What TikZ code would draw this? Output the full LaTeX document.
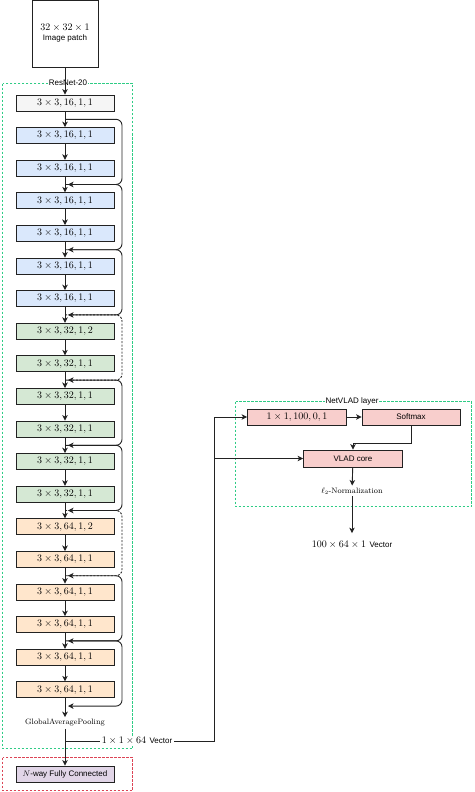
\documentclass[tikz,border=0pt]{standalone}
\usepackage{fontspec}
\setsansfont{Liberation Sans}
\usetikzlibrary{arrows.meta}
\definecolor{gfill}{HTML}{F5F5F5}
\definecolor{bfill}{HTML}{DAE8FC}
\definecolor{grfill}{HTML}{D5E8D4}
\definecolor{ofill}{HTML}{FFE6CC}
\definecolor{pfill}{HTML}{F8CECC}
\definecolor{vfill}{HTML}{E1D5E7}
\definecolor{dgreen}{HTML}{2ECC85}
\definecolor{dred}{HTML}{DC4455}
\definecolor{ln}{HTML}{222222}
\tikzset{
  arr/.style={draw=ln, line width=0.9pt, -{Stealth[length=5.5pt,width=5.5pt,inset=1.5pt]}},
  plain/.style={draw=ln, line width=0.9pt},
  layer/.style={draw=ln, line width=0.8pt, minimum width=98pt, minimum height=16pt, inner sep=0pt, font=\normalsize},
  skipline/.style={arr, rounded corners=6pt},
  grp/.style={line width=1.1pt, dash pattern=on 2.5pt off 1.5pt},
  grplabel/.style={fill=white, inner sep=1pt, font=\sffamily\fontsize{8}{9}\selectfont},
  serifsmall/.style={font=\rmfamily\fontsize{7.8}{9}\selectfont, inner sep=2pt},
}
\begin{document}
\begin{tikzpicture}[x=1pt,y=-1pt]
\useasboundingbox (0,0) rectangle (474,792);
\fill[white] (0,0) rectangle (474,792);
% group boxes
\draw[grp, draw=dgreen] (2.5,83.5) rectangle (132.5,748.5);
\draw[grp, draw=dred] (2.5,757.5) rectangle (132.5,790.5);
\draw[grp, draw=dgreen] (235.5,401.5) rectangle (471.5,506.5);
\node[grplabel] (lres) at (68,83) {ResNet-20};
\node[grplabel] (lvlad) at (352,401) {NetVLAD layer};
% input
\node[draw=ln, line width=0.9pt, minimum width=66pt, minimum height=67pt, inner sep=0pt, align=center] (img) at (65,33.5)
  {$32\times32\times1$\\[-2pt]{\sffamily\fontsize{8}{9}\selectfont Image patch}};
% layers
\foreach \i/\c/\t in {1/gfill/{16,1,1},2/bfill/{16,1,1},3/bfill/{16,1,1},4/bfill/{16,1,1},5/bfill/{16,1,1},6/bfill/{16,1,1},7/bfill/{16,1,1},
  8/grfill/{32,1,2},9/grfill/{32,1,1},10/grfill/{32,1,1},11/grfill/{32,1,1},12/grfill/{32,1,1},13/grfill/{32,1,1},
  14/ofill/{64,1,2},15/ofill/{64,1,1},16/ofill/{64,1,1},17/ofill/{64,1,1},18/ofill/{64,1,1},19/ofill/{64,1,1}}
  \node[layer, fill=\c] (b\i) at (65,{103+32.6*(\i-1)}) {$3\times3,\t$};
\draw[arr] (img) -- (b1);
\foreach \i [evaluate=\i as \j using int(\i+1)] in {1,...,18}
  \draw[arr] (b\i) -- (b\j);
% junctions
\foreach \k/\i in {0/1,1/3,2/5,3/7,4/9,5/11,6/13,7/15,8/17,9/19}
  \coordinate (s\k) at (65,{119.3+32.6*(\i-1)});
\coordinate (xr) at (122,0);
\node[serifsmall] (gap) at (65,723) {GlobalAveragePooling};
\draw[arr] (b19) -- (gap);
\foreach \a/\b in {0/1,1/2,2/3,4/5,5/6,7/8,8/9}
  \draw[skipline] (s\a) -- (s\a -| xr) -- (s\b -| xr) -- ([xshift=3pt]s\b);
\foreach \a/\b in {3/4,6/7}
  \draw[skipline, dash pattern=on 2pt off 1.5pt] (s\a) -- (s\a -| xr) -- (s\b -| xr) -- ([xshift=3pt]s\b);
% classifier
\node[draw=ln, line width=0.8pt, fill=vfill, minimum width=98pt, minimum height=16pt, inner sep=0pt,
  font=\sffamily\fontsize{8}{9}\selectfont] (fc) at (65,774) {$N$-way Fully Connected};
\draw[arr] (gap) -- (fc);
% branch to NetVLAD
\coordinate (br) at (65,741);
\coordinate (c1) at (214,741);
\node[layer, fill=pfill, minimum width=99pt] (nv1) at (297,417) {$1\times1,100,0,1$};
\node[layer, fill=pfill, font=\sffamily\fontsize{8}{9}\selectfont] (soft) at (411,417) {Softmax};
\node[layer, fill=pfill, minimum width=99pt, minimum height=17pt, font=\sffamily\fontsize{8}{9}\selectfont] (vlad) at (353,458.5) {VLAD core};
\draw[arr] (br) -- (c1) -- (c1 |- nv1) -- (nv1);
\draw[arr] (c1 |- vlad) -- (vlad);
\node[fill=white, inner sep=1.5pt] (vec) at (137,741) {$1\times1\times64$ {\sffamily\fontsize{8}{9}\selectfont Vector}};
\draw[arr] (nv1) -- (soft);
\draw[arr] (soft.south) -- ++(0,18) -| (vlad.north);
\node[serifsmall] (l2) at (352,491) {$\ell_2$-Normalization};
\draw[arr] (vlad) -- (l2);
\node[inner sep=2pt] (out) at (352,545) {$100\times64\times1$ {\sffamily\fontsize{8}{9}\selectfont Vector}};
\draw[arr, shorten >=6pt] (l2) -- (out);
\end{tikzpicture}
\end{document}
